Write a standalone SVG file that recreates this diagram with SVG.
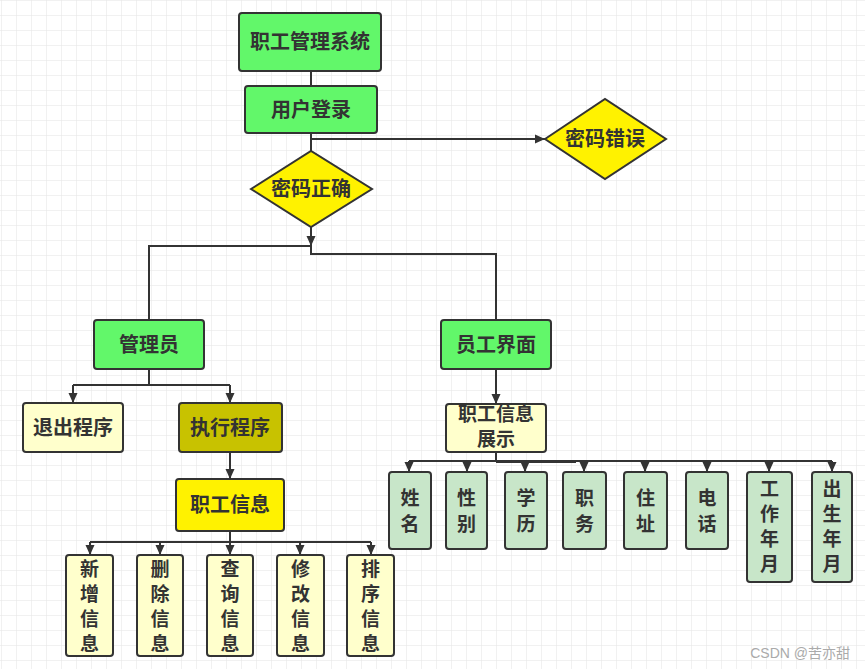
<svg xmlns="http://www.w3.org/2000/svg" width="865" height="669" viewBox="0 0 865 669">
<defs>
<pattern id="grid" x="1" y="0" width="15" height="15" patternUnits="userSpaceOnUse">
<path d="M0,0 V15 M0,0 H15" fill="none" stroke="#e3e3e3" stroke-width="1"/>
</pattern>
<marker id="arr" markerUnits="userSpaceOnUse" markerWidth="10" markerHeight="10" refX="10" refY="5" orient="auto">
<path d="M0,0.5 L10,5 L0,9.5 z" fill="#333"/>
</marker>
<style>
.box{stroke:#333;stroke-width:2}
.g{fill:#62f76a}
.y{fill:#fff200}
.ly{fill:#ffffcc}
.ol{fill:#c8c200}
.lg{fill:#c8e6c9}
.t{font-family:"Noto Sans CJK SC","Noto Sans",sans-serif;font-weight:bold;font-size:20px;fill:#333;text-anchor:middle}
.s{font-size:19px}
.c line,.c path{stroke:#333;stroke-width:2;fill:none}
</style>
</defs>
<rect width="865" height="669" fill="#ffffff"/>
<rect width="865" height="669" fill="url(#grid)"/>

<g class="c" id="connectors">
<line x1="311" y1="71" x2="311" y2="86"/>
<line x1="311" y1="133" x2="311" y2="151"/>
<path d="M311,139 H545" marker-end="url(#arr)"/>
<path d="M311,227 V246" marker-end="url(#arr)"/>
<path d="M311,246 H149 V320"/>
<path d="M311,246 V254 H496 V320"/>
<path d="M149,369 V385"/>
<path d="M73,385 H230"/>
<path d="M73,385 V403" marker-end="url(#arr)"/>
<path d="M230,385 V403" marker-end="url(#arr)"/>
<path d="M230,452 V479" marker-end="url(#arr)"/>
<path d="M230,531 V542"/>
<path d="M90,542 H371"/>
<path d="M90,542 V555" marker-end="url(#arr)"/>
<path d="M160,542 V555" marker-end="url(#arr)"/>
<path d="M230,542 V555" marker-end="url(#arr)"/>
<path d="M300,542 V555" marker-end="url(#arr)"/>
<path d="M371,542 V555" marker-end="url(#arr)"/>
<path d="M496,369 V404" marker-end="url(#arr)"/>
<path d="M496,452 V461"/>
<path d="M409,461 H832"/>
<path d="M496,462 H576"/>
<path d="M409,461 V472" marker-end="url(#arr)"/>
<path d="M467,461 V472" marker-end="url(#arr)"/>
<path d="M525,461 V472" marker-end="url(#arr)"/>
<path d="M584,461 V472" marker-end="url(#arr)"/>
<path d="M645,461 V472" marker-end="url(#arr)"/>
<path d="M707,461 V472" marker-end="url(#arr)"/>
<path d="M769,461 V472" marker-end="url(#arr)"/>
<path d="M832,461 V472" marker-end="url(#arr)"/>
</g>

<g id="n_system"><rect class="box g" x="239" y="13" width="142" height="58" rx="3"/><text class="t" x="310" y="49">职工管理系统</text></g>
<g id="n_login"><rect class="box g" x="245" y="86" width="132" height="47" rx="3"/><text class="t" x="311" y="117">用户登录</text></g>
<g id="n_wrong"><polygon class="box y" points="545,139 605,99 666,139 605,179"/><text class="t" x="605" y="146">密码错误</text></g>
<g id="n_right"><polygon class="box y" points="251,189 311,151 372,189 311,227"/><text class="t" x="311" y="196">密码正确</text></g>
<g id="n_admin"><rect class="box g" x="94" y="320" width="110" height="49" rx="3"/><text class="t" x="149" y="352">管理员</text></g>
<g id="n_staff"><rect class="box g" x="441" y="320" width="110" height="49" rx="3"/><text class="t" x="496" y="352">员工界面</text></g>
<g id="n_exit"><rect class="box ly" x="23" y="403" width="100" height="49" rx="3"/><text class="t" x="73" y="435">退出程序</text></g>
<g id="n_exec"><rect class="box ol" x="179" y="403" width="103" height="49" rx="3"/><text class="t" x="230" y="435">执行程序</text></g>
<g id="n_info"><rect class="box y" x="176" y="479" width="108" height="52" rx="3"/><text class="t" x="230" y="512">职工信息</text></g>

<g id="n_add"><rect class="box ly" x="66" y="555" width="47" height="101" rx="3"/><text class="t s"><tspan x="89.5" y="576">新</tspan><tspan x="89.5" y="601">增</tspan><tspan x="89.5" y="626">信</tspan><tspan x="89.5" y="651">息</tspan></text></g>
<g id="n_del"><rect class="box ly" x="137" y="555" width="46" height="101" rx="3"/><text class="t s"><tspan x="160" y="576">删</tspan><tspan x="160" y="601">除</tspan><tspan x="160" y="626">信</tspan><tspan x="160" y="651">息</tspan></text></g>
<g id="n_query"><rect class="box ly" x="207" y="555" width="46" height="101" rx="3"/><text class="t s"><tspan x="230" y="576">查</tspan><tspan x="230" y="601">询</tspan><tspan x="230" y="626">信</tspan><tspan x="230" y="651">息</tspan></text></g>
<g id="n_mod"><rect class="box ly" x="277" y="555" width="47" height="101" rx="3"/><text class="t s"><tspan x="300.5" y="576">修</tspan><tspan x="300.5" y="601">改</tspan><tspan x="300.5" y="626">信</tspan><tspan x="300.5" y="651">息</tspan></text></g>
<g id="n_sort"><rect class="box ly" x="347" y="555" width="47" height="101" rx="3"/><text class="t s"><tspan x="370.5" y="576">排</tspan><tspan x="370.5" y="601">序</tspan><tspan x="370.5" y="626">信</tspan><tspan x="370.5" y="651">息</tspan></text></g>

<g id="n_show"><rect class="box ly" x="446" y="404" width="100" height="48" rx="3"/><text class="t s"><tspan x="496" y="421">职工信息</tspan><tspan x="496" y="446">展示</tspan></text></g>

<g id="n_name"><rect class="box lg" x="389" y="472" width="42" height="77" rx="3"/><text class="t s"><tspan x="410" y="505">姓</tspan><tspan x="410" y="531">名</tspan></text></g>
<g id="n_sex"><rect class="box lg" x="446" y="472" width="41" height="77" rx="3"/><text class="t s"><tspan x="466.5" y="505">性</tspan><tspan x="466.5" y="531">别</tspan></text></g>
<g id="n_edu"><rect class="box lg" x="505" y="472" width="42" height="77" rx="3"/><text class="t s"><tspan x="526" y="505">学</tspan><tspan x="526" y="531">历</tspan></text></g>
<g id="n_job"><rect class="box lg" x="563" y="472" width="43" height="77" rx="3"/><text class="t s"><tspan x="584.5" y="505">职</tspan><tspan x="584.5" y="531">务</tspan></text></g>
<g id="n_addr"><rect class="box lg" x="624" y="472" width="43" height="77" rx="3"/><text class="t s"><tspan x="645.5" y="505">住</tspan><tspan x="645.5" y="531">址</tspan></text></g>
<g id="n_tel"><rect class="box lg" x="686" y="472" width="42" height="77" rx="3"/><text class="t s"><tspan x="707" y="505">电</tspan><tspan x="707" y="531">话</tspan></text></g>
<g id="n_work"><rect class="box lg" x="747" y="472" width="45" height="110" rx="3"/><text class="t s"><tspan x="769.5" y="496">工</tspan><tspan x="769.5" y="521">作</tspan><tspan x="769.5" y="546">年</tspan><tspan x="769.5" y="571">月</tspan></text></g>
<g id="n_birth"><rect class="box lg" x="812" y="472" width="40" height="110" rx="3"/><text class="t s"><tspan x="832" y="496">出</tspan><tspan x="832" y="521">生</tspan><tspan x="832" y="546">年</tspan><tspan x="832" y="571">月</tspan></text></g>

<text x="850" y="658" font-family="'Liberation Sans','Noto Sans CJK SC',sans-serif" font-size="14" fill="#aaaaaa" text-anchor="end">CSDN @苦亦甜</text>
</svg>
